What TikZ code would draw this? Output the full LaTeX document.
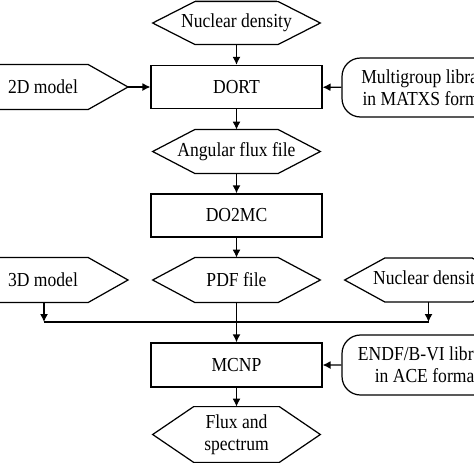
\documentclass[tikz,border=0pt]{standalone}
\usepackage{fontspec}
\setmainfont{Liberation Serif}
\usetikzlibrary{arrows.meta}

\tikzset{
  flow/.style={line width=0.7pt},
  arr/.style={flow, -{Latex[length=4.5pt,width=4.5pt]}},
  tall/.style={yscale=1.13, font=\fontsize{10}{11}\selectfont, inner sep=0pt, align=center},
  hexa/.style={tall, rectangle, minimum width=3.34cm, minimum height=0.743cm},
  prog/.style={tall, flow, draw, rectangle, minimum width=3.42cm, minimum height=0.761cm},
  lib/.style={tall, flow, draw, rectangle, rounded corners=0.37cm,
    minimum width=3.4cm, minimum height=1.044cm},
  geom/.style={tall, rectangle, minimum width=1.8cm, minimum height=0.779cm}
}

% outline of a data node: #1 node, #2 run of the slanted side
\newcommand{\hexout}[2]{%
  \draw[flow] (#1.west) -- ([xshift=#2]#1.north west) -- ([xshift=-#2]#1.north east)
    -- (#1.east) -- ([xshift=-#2]#1.south east) -- ([xshift=#2]#1.south west) -- cycle;}
% outline of a model node, pointing east: #1 node, #2 tip
\newcommand{\penout}[2]{%
  \draw[flow] (#1.north west) -- (#1.north east) -- (#2) -- (#1.south east)
    -- (#1.south west) -- cycle;}

\begin{document}
\begin{tikzpicture}[x=0.02cm,y=-0.02cm]
    \clip (0,0) rectangle (474,474);
    \fill[white] (0,0) rectangle (474,474);
    \fill[gray!70] (195,-2) rectangle (277,2);

    % main column
    \node[hexa] (nd1) at (236.5,23) {Nuclear density};
    \node[prog] (dort) at (236.5,87) {DORT};
    \node[hexa, minimum height=0.761cm] (angflux) at (236.5,151.5) {Angular flux file};
    \node[prog] (do2mc) at (236.5,215.5) {DO2MC};
    \node[hexa, minimum height=0.779cm] (pdf) at (236.5,280) {PDF file};
    \node[prog, minimum height=0.779cm] (mcnp) at (236.5,365) {MCNP};
    \node[hexa, minimum height=0.973cm] (flux) at (236.5,434.5) {Flux and\\spectrum};
    \hexout{nd1}{0.84cm}
    \hexout{angflux}{0.84cm}
    \hexout{pdf}{0.84cm}
    \hexout{flux}{0.82cm}

    % inputs at the sides
    \node[geom] (model2d) at (43,87) {2D model};
    \coordinate (tip2d) at (128,87);
    \node[geom] (model3d) at (43,280) {3D model};
    \coordinate (tip3d) at (128,280);
    \penout{model2d}{tip2d}
    \penout{model3d}{tip3d}
    \node[lib] (multi) at (427,87.5) {Multigroup library\\in MATXS format};
    \node[hexa, minimum height=0.761cm] (nd2) at (428.5,280) {Nuclear density};
    \hexout{nd2}{0.8cm}
    \node[lib, minimum height=1.062cm] (endf) at (427,365) {ENDF/B-VI library\\in ACE format};

    \coordinate (j1) at (44,322);
    \coordinate (j3) at (428.5,322);

    \draw[arr] (nd1) -- (dort);
    \draw[arr] (tip2d) -- (dort);
    \draw[arr] (multi) -- (dort);
    \draw[arr] (dort) -- (angflux);
    \draw[arr] (angflux) -- (do2mc);
    \draw[arr] (do2mc) -- (pdf);
    \draw[flow] (j1) -- (j3);
    \draw[arr] (j1 |- model3d.south) -- (j1);
    \draw[arr] (nd2) -- (j3);
    \draw[arr] (pdf) -- (mcnp);
    \draw[arr] (endf) -- (mcnp);
    \draw[arr] (mcnp) -- (flux);
\end{tikzpicture}
\end{document}
